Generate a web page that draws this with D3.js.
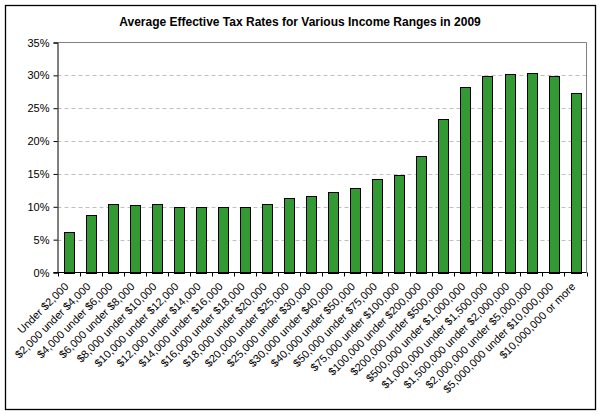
<!DOCTYPE html>
<html>
<head>
<meta charset="utf-8">
<script src="https://cdn.jsdelivr.net/npm/d3@7"></script>
<style>
  body { margin: 0; background: #fff; }
  svg text { font-family: "Liberation Sans", Arial, sans-serif; fill: #000; }
</style>
</head>
<body>
<svg id="chart"></svg>
<script>
// chart data
const incomeRanges = [
  "Under $2,000", "$2,000 under $4,000", "$4,000 under $6,000", "$6,000 under $8,000",
  "$8,000 under $10,000", "$10,000 under $12,000", "$12,000 under $14,000", "$14,000 under $16,000",
  "$16,000 under $18,000", "$18,000 under $20,000", "$20,000 under $25,000", "$25,000 under $30,000",
  "$30,000 under $40,000", "$40,000 under $50,000", "$50,000 under $75,000", "$75,000 under $100,000",
  "$100,000 under $200,000", "$200,000 under $500,000", "$500,000 under $1,000,000",
  "$1,000,000 under $1,500,000", "$1,500,000 under $2,000,000", "$2,000,000 under $5,000,000",
  "$5,000,000 under $10,000,000", "$10,000,000 or more"
];
const taxRates = [
  6.1, 8.7, 10.5, 10.2, 10.4, 9.9, 9.9, 9.9, 10.0, 10.5, 11.3, 11.7,
  12.2, 12.8, 14.2, 14.8, 17.7, 23.3, 28.3, 29.9, 30.2, 30.3, 29.9, 27.3
];
const yTicks = [0, 5, 10, 15, 20, 25, 30, 35];
const chartTitle = "Average Effective Tax Rates for Various Income Ranges in 2009";

const width = 602, height = 415;
const plot = { left: 57.5, right: 586.5, top: 42.5, bottom: 272.5 };

const svg = d3.select("#chart")
  .attr("width", width)
  .attr("height", height);

// outer frame
svg.append("rect")
  .attr("x", 5.5).attr("y", 5.5)
  .attr("width", 590).attr("height", 404)
  .attr("fill", "none")
  .attr("stroke", "#000")
  .attr("stroke-width", 1.3);

svg.append("text")
  .attr("x", 300).attr("y", 26)
  .attr("text-anchor", "middle")
  .style("font-size", "12px")
  .style("font-weight", "bold")
  .text(chartTitle);

const x = d3.scaleBand()
  .domain(incomeRanges)
  .range([plot.left, plot.right])
  .paddingInner(0.56)
  .paddingOuter(0.28);

const y = d3.scaleLinear()
  .domain([0, 35])
  .range([plot.bottom, plot.top]);

// gridlines
svg.append("g")
  .selectAll("line")
  .data(yTicks.filter(d => d > 0 && d < 35))
  .join("line")
  .attr("x1", plot.left).attr("x2", plot.right)
  .attr("y1", d => Math.round(y(d)) + 0.5)
  .attr("y2", d => Math.round(y(d)) + 0.5)
  .attr("stroke", "#c0c0c0")
  .attr("stroke-dasharray", "4,3");

// plot border (top & right gray)
svg.append("path")
  .attr("d", `M${plot.left},${plot.top}H${plot.right}V${plot.bottom}`)
  .attr("fill", "none")
  .attr("stroke", "#808080");

// bars
svg.append("g")
  .selectAll("rect")
  .data(taxRates)
  .join("rect")
  .attr("x", (d, i) => Math.round(x(incomeRanges[i])) + 0.5)
  .attr("y", d => Math.round(y(d)) + 0.5)
  .attr("width", Math.round(x.bandwidth()))
  .attr("height", d => Math.round(y(0)) - Math.round(y(d)))
  .attr("fill", "#339933")
  .attr("stroke", "#000");

// y axis
const yAxis = svg.append("g")
  .attr("transform", `translate(${plot.left},0)`)
  .call(d3.axisLeft(y).tickValues(yTicks).tickSize(4).tickPadding(4).tickFormat(d => d + "%"));
yAxis.select(".domain").attr("stroke", "#000");
yAxis.selectAll("text").style("font-size", "11px").attr("font-family", null);

// x axis: ticks at band boundaries
const step = x.step();
const xAxis = svg.append("g");
xAxis.append("line")
  .attr("x1", plot.left - 4).attr("x2", plot.right)
  .attr("y1", plot.bottom).attr("y2", plot.bottom)
  .attr("stroke", "#000");
xAxis.selectAll("line.tick")
  .data(d3.range(incomeRanges.length + 1))
  .join("line")
  .attr("class", "tick")
  .attr("x1", i => Math.round(plot.left + i * step) + 0.5)
  .attr("x2", i => Math.round(plot.left + i * step) + 0.5)
  .attr("y1", plot.bottom).attr("y2", plot.bottom + 4)
  .attr("stroke", "#000");

xAxis.selectAll("text")
  .data(incomeRanges)
  .join("text")
  .attr("transform", d => `translate(${x(d) + x.bandwidth() / 2 - 2},${plot.bottom + 12}) rotate(-45)`)
  .attr("text-anchor", "end")
  .attr("dy", "0.35em")
  .style("font-size", "11px")
  .text(d => d);
</script>
</body>
</html>
